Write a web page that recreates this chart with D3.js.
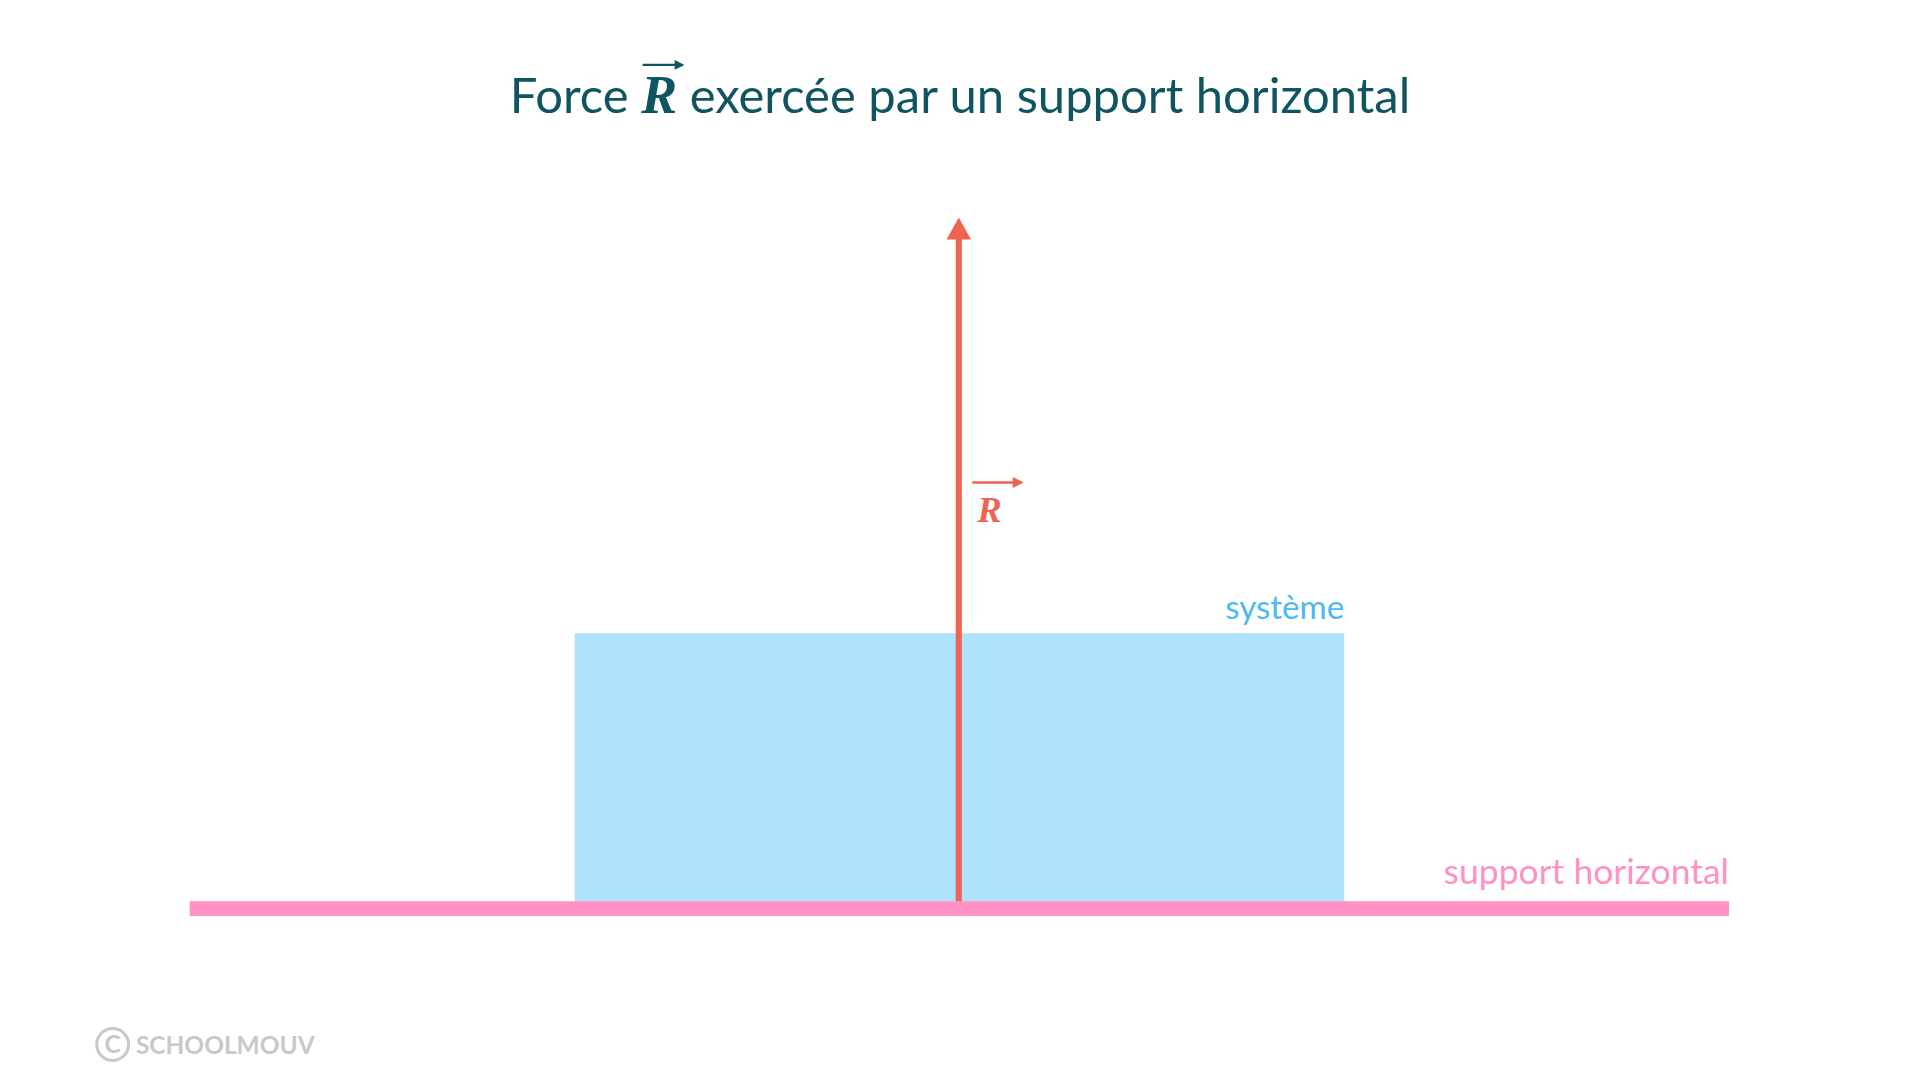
<!DOCTYPE html>
<html lang="fr">
<head>
<meta charset="UTF-8">
<title>Force R exercée par un support horizontal</title>
<style>
  body { margin: 0; background: #fff; }
  svg { display: block; }
</style>
</head>
<body>
<svg id="chart"></svg>
<script src="https://d3js.org/d3.v7.min.js"></script>
<script>
// scene in abstract units: x from 0 to 100, y (height above support) from 0 to 100
const support = [0, 100];          // x extent of the support
const systeme = [25, 75];          // x extent of the box
const systemeHeight = 38.8;        // box height
const forceX = 50;                 // application point
const forceLength = 99;            // length of R
const titleParts = ["Force ", "R", " exercée par un support horizontal"];

const width = 1920, height = 1080;
const svg = d3.select("#chart").attr("width", width).attr("height", height)
  .attr("viewBox", "0 0 1568 882")
  .style("font-family", "Lato, 'Open Sans', sans-serif");

const x = d3.scaleLinear().domain(support).range([155, 1412]);
const y = d3.scaleLinear().domain([0, 100]).range([736, 172]);

const red = "#ee6352", pink = "#ff91c4", blue = "#aee3fe", teal = "#0f5560";
const serif = "'Liberation Serif', 'DejaVu Serif', serif";

// title
const title = svg.append("text").attr("x", 784).attr("y", 92)
  .attr("text-anchor", "middle").attr("font-size", 40).attr("fill", teal);
title.append("tspan").text(titleParts[0]);
title.append("tspan").text(titleParts[1]).style("font-family", serif)
  .attr("font-style", "italic").attr("font-weight", "bold").attr("font-size", 44);
title.append("tspan").text(titleParts[2]);
// vector arrow above title R
const rBox = title.select("tspan:nth-child(2)").node().getBBox();
const ax0 = rBox.x + 2, ax1 = rBox.x + rBox.width + 6;
svg.append("line").attr("x1", ax0).attr("x2", ax1 - 4).attr("y1", 53).attr("y2", 53)
  .attr("stroke", teal).attr("stroke-width", 2);
svg.append("path").attr("d", `M${ax1},53 L${ax1 - 8},49 L${ax1 - 8},57 Z`).attr("fill", teal);

// system box
svg.append("rect").attr("x", x(systeme[0])).attr("y", y(systemeHeight))
  .attr("width", x(systeme[1]) - x(systeme[0])).attr("height", y(0) - y(systemeHeight))
  .attr("fill", blue);
svg.append("text").attr("x", x(systeme[1])).attr("y", y(systemeHeight) - 12)
  .attr("text-anchor", "end").attr("font-size", 27).attr("fill", "#4cb9f0")
  .text("système");

// support
svg.append("rect").attr("x", x(support[0])).attr("y", y(0))
  .attr("width", x(support[1]) - x(support[0])).attr("height", 12).attr("fill", pink);
svg.append("text").attr("x", x(support[1])).attr("y", y(0) - 14)
  .attr("text-anchor", "end").attr("font-size", 29).attr("fill", pink)
  .text("support horizontal");

// force R
const fx = x(forceX) - 0.5;
svg.append("line").attr("x1", fx).attr("x2", fx).attr("y1", y(0)).attr("y2", y(forceLength) + 16)
  .attr("stroke", red).attr("stroke-width", 5);
svg.append("path").attr("d", `M${fx},${y(forceLength)} L${fx - 10},${y(forceLength) + 18} L${fx + 10},${y(forceLength) + 18} Z`)
  .attr("fill", red);
svg.append("text").attr("x", 798).attr("y", 426).attr("font-size", 30)
  .style("font-family", serif).attr("font-style", "italic")
  .attr("font-weight", "bold").attr("fill", red).text("R");
svg.append("line").attr("x1", 794).attr("x2", 828).attr("y1", 394).attr("y2", 394)
  .attr("stroke", red).attr("stroke-width", 2);
svg.append("path").attr("d", "M836,394 L827,389.5 L827,398.5 Z").attr("fill", red);

// watermark
const wm = svg.append("g").attr("fill", "#c8c8c8");
wm.append("circle").attr("cx", 92).attr("cy", 853).attr("r", 13)
  .attr("fill", "none").attr("stroke", "#c8c8c8").attr("stroke-width", 2.5);
wm.append("text").attr("x", 92).attr("y", 860).attr("text-anchor", "middle")
  .attr("font-size", 20).attr("font-weight", "bold").text("C");
wm.append("text").attr("x", 111).attr("y", 861).attr("font-size", 20)
  .attr("font-weight", "bold").text("SCHOOLMOUV");
</script>
</body>
</html>
